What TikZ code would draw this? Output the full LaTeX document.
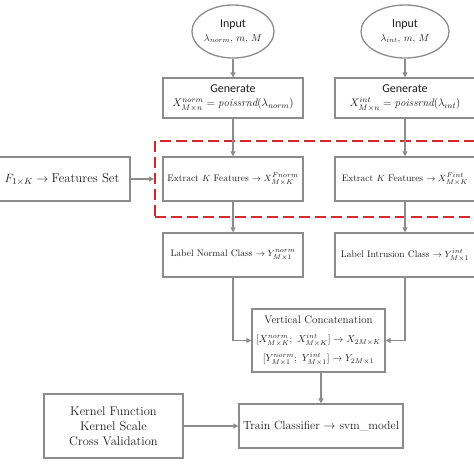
\documentclass[tikz,border=0pt]{standalone}
\usepackage{fontspec}
\usepackage{amsmath}
\newfontfamily\sansf{Carlito}
\usetikzlibrary{shapes.geometric,arrows.meta}
\definecolor{boxgray}{HTML}{8C8C8C}
\definecolor{dashred}{HTML}{D9262C}
\definecolor{txt}{HTML}{1E1E1E}
\begin{document}
\begin{tikzpicture}[x=1pt,y=-1pt,
  box/.style={draw=boxgray,line width=1.3pt,fill=white,inner sep=0pt,text=txt,align=center,font=\fontsize{9.5}{12}\selectfont},
  oval/.style={ellipse,draw=boxgray,line width=1.3pt,inner sep=0pt,text=txt,align=center,minimum height=53pt},
  arr/.style={draw=boxgray,line width=1.3pt,-{Triangle[length=5pt,width=5pt]}},
  dashbox/.style={draw=dashred,line width=1.8pt,dash pattern=on 11pt off 5pt,inner sep=0pt}]
\useasboundingbox (0,0) rectangle (474,474);
% dashed region
\node[dashbox,minimum width=330pt,minimum height=76pt] (dash) at (320,179) {};
% inputs
\node[oval,minimum width=80pt] (in1) at (233,31.5) {{\sansf\fontsize{12}{14}\selectfont Input}\\[2pt] $\lambda_{norm},\, m,\, M$};
\node[oval,minimum width=88pt] (in2) at (405,31.5) {{\sansf\fontsize{12}{14}\selectfont Input}\\[2pt] $\lambda_{int},\, m,\, M$};
% generate
\node[box,minimum width=140pt,minimum height=40pt] (gen1) at (233,98) {{\sansf\fontsize{12}{14}\selectfont Generate}\\[2pt] \fontsize{11}{13}\selectfont $X^{norm}_{M\times n}=\mathit{poissrnd}(\lambda_{norm})$};
\node[box,minimum width=140pt,minimum height=40pt] (gen2) at (405,98) {{\sansf\fontsize{12}{14}\selectfont Generate}\\[2pt] \fontsize{11}{13}\selectfont $X^{int}_{M\times n}=\mathit{poissrnd}(\lambda_{int})$};
% features
\node[box,minimum width=150pt,minimum height=44pt,font=\fontsize{12.8}{16}\selectfont] (feat) at (55,179) {\hspace*{14pt}$F_{1\times K}\rightarrow{}$Features Set};
\node[box,minimum width=140pt,minimum height=44pt] (ext1) at (233,179) {Extract $K$ Features $\rightarrow X^{Fnorm}_{M\times K}$};
\node[box,minimum width=140pt,minimum height=44pt] (ext2) at (405,179) {Extract $K$ Features $\rightarrow X^{Fint}_{M\times K}$};
% labels
\node[box,minimum width=140pt,minimum height=44pt] (lab1) at (233,255) {Label Normal Class $\rightarrow Y^{norm}_{M\times 1}$};
\node[box,minimum width=140pt,minimum height=44pt] (lab2) at (405,255) {Label Intrusion Class $\rightarrow Y^{int}_{M\times 1}$};
% concatenation
\node[box,minimum width=133pt,minimum height=63pt,font=\fontsize{10}{19}\selectfont] (cat) at (318.5,340.5) {{\fontsize{11}{13}\selectfont Vertical Concatenation}\\ $[X^{norm}_{M\times K};\ X^{int}_{M\times K}]\rightarrow X_{2M\times K}$\\ $[Y^{norm}_{M\times 1};\ Y^{int}_{M\times 1}]\rightarrow Y_{2M\times 1}$};
% train
\node[box,minimum width=164pt,minimum height=44pt,font=\fontsize{11.8}{14}\selectfont] (train) at (321,426) {Train Classifier $\rightarrow$ svm\_model};
\node[box,minimum width=139pt,minimum height=64pt,font=\fontsize{12.5}{15}\selectfont] (kern) at (113.5,426) {Kernel Function\\ Kernel Scale\\ Cross Validation};
% connectors
\draw[arr] (in1) -- (gen1);
\draw[arr] (in2) -- (gen2);
\draw[arr] (gen1) -- (ext1);
\draw[arr] (gen2) -- (ext2);
\draw[arr] (feat) -- (feat -| dash.west);
\draw[arr] (ext1) -- (lab1);
\draw[arr] (ext2) -- (lab2);
\draw[arr] (lab1.south) |- (cat.west);
\draw[arr] (lab2.south) |- (cat.east);
\draw[arr] (cat.south -| train.north) -- (train.north);
\draw[arr] (kern) -- (train);
\end{tikzpicture}
\end{document}
